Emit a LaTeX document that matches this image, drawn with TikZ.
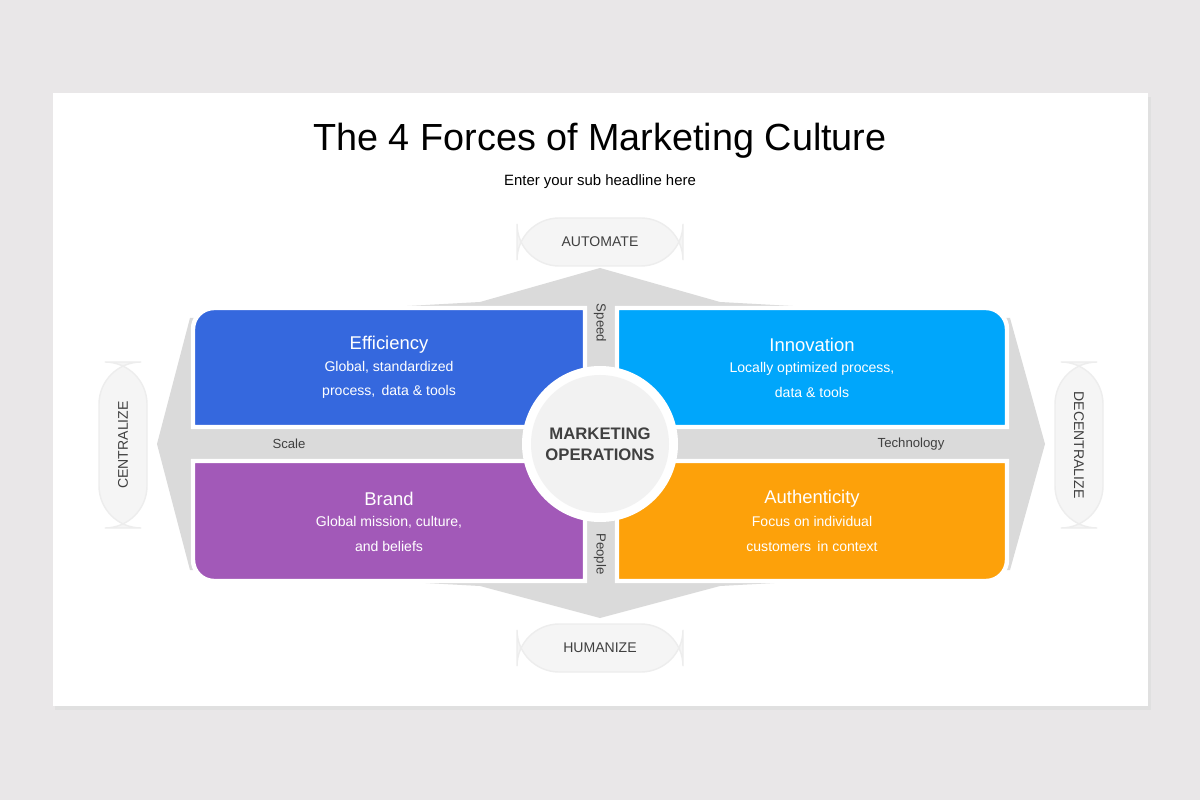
\documentclass[tikz,border=0pt]{standalone}
\usepackage{fontspec}
\setmainfont{Liberation Sans}
\begin{document}
\begin{tikzpicture}[x=0.02cm,y=-0.02cm,
  pill/.style={draw=black!7,fill=black!4,rounded corners=24,line width=0.8pt},
  pilltxt/.style={text=black!75,font=\fontsize{8}{10}\selectfont},
  boxtitle/.style={text=white,font=\fontsize{10.5}{12}\selectfont},
  boxbody/.style={text=white,align=center,font=\fontsize{8}{14}\selectfont},
  axis/.style={text=black!75,font=\fontsize{7.5}{9}\selectfont},
  qbox/.style={draw=white,line width=2.5pt}]
\definecolor{bgc}{HTML}{E9E7E8}
\definecolor{cblue}{HTML}{3568DE}
\definecolor{ccyan}{HTML}{00A6FB}
\definecolor{cpurple}{HTML}{A259B8}
\definecolor{corange}{HTML}{FDA10A}
\definecolor{cgray}{HTML}{DADADA}
\fill[bgc] (0,0) rectangle (1200,800);
\useasboundingbox (0,0) rectangle (1200,800);
\fill[black!12] (55,97) rectangle (1151,710);
\fill[white] (53,93) rectangle (1148,706);
\node (title) at (600,141) {\fontsize{21.5}{24}\selectfont The 4 Forces of Marketing Culture};
\node (sub) at (600,182) {\fontsize{8.5}{10}\selectfont Enter your sub headline here};
% gray arrows shape
\fill[cgray] (600,268) -- (720,302) -- (1010,318) -- (1045,444) -- (1010,570) -- (720,586) -- (600,618) -- (480,586) -- (190,570) -- (157,444) -- (190,318) -- (480,302) -- cycle;
% boxes
\draw[qbox,fill=cblue] (585,427) -- (193,427) [rounded corners=12] -- (193,308) [sharp corners] -- (585,308) -- cycle;
\draw[qbox,fill=ccyan] (617,427) -- (1007,427) [rounded corners=12] -- (1007,308) [sharp corners] -- (617,308) -- cycle;
\draw[qbox,fill=cpurple] (585,461) -- (193,461) [rounded corners=12] -- (193,581) [sharp corners] -- (585,581) -- cycle;
\draw[qbox,fill=corange] (617,461) -- (1007,461) [rounded corners=12] -- (1007,581) [sharp corners] -- (617,581) -- cycle;
\node[boxtitle] (t1) at (389,345) {Efficiency};
\node[boxbody] (b1) at (389,380) {Global, standardized\\process,\, data \& tools};
\node[boxtitle] (t2) at (812,345) {Innovation};
\node[boxbody] (b2) at (812,380) {Locally optimized process,\\data \& tools};
\node[boxtitle] (t3) at (389,499) {Brand};
\node[boxbody] (b3) at (389,534) {Global mission, culture,\\and beliefs};
\node[boxtitle] (t4) at (812,499) {Authenticity};
\node[boxbody] (b4) at (812,534) {Focus on individual\\customers\, in context};
% center
\node[circle,fill=white,minimum size=156*0.02cm,inner sep=0] (cw) at (600,444) {};
\node[circle,fill=black!5,minimum size=138*0.02cm,inner sep=0,align=center,text=black!75,font=\bfseries\fontsize{9.5}{12}\selectfont] (mo) at (600,444) {MARKETING\\OPERATIONS};
% axis labels
\node[axis] (scale) at (289,444) {Scale};
\node[axis] (tech) at (911,444) {Technology};
\node[axis,rotate=-90] (speed) at (600,323) {Speed};
\node[axis,rotate=-90] (people) at (600,554) {People};
% pills
\draw[pill] (517,218) rectangle (683,266);
\node[pilltxt] (auto) at (600,242) {AUTOMATE};
\draw[pill] (517,624) rectangle (683,672);
\node[pilltxt] (hum) at (600,648) {HUMANIZE};
\draw[pill] (99,362) rectangle (147,528);
\node[pilltxt,rotate=90] (cen) at (123,445) {CENTRALIZE};
\draw[pill] (1055,362) rectangle (1103,528);
\node[pilltxt,rotate=-90] (dec) at (1079,445) {DECENTRALIZE};
\end{tikzpicture}
\end{document}
